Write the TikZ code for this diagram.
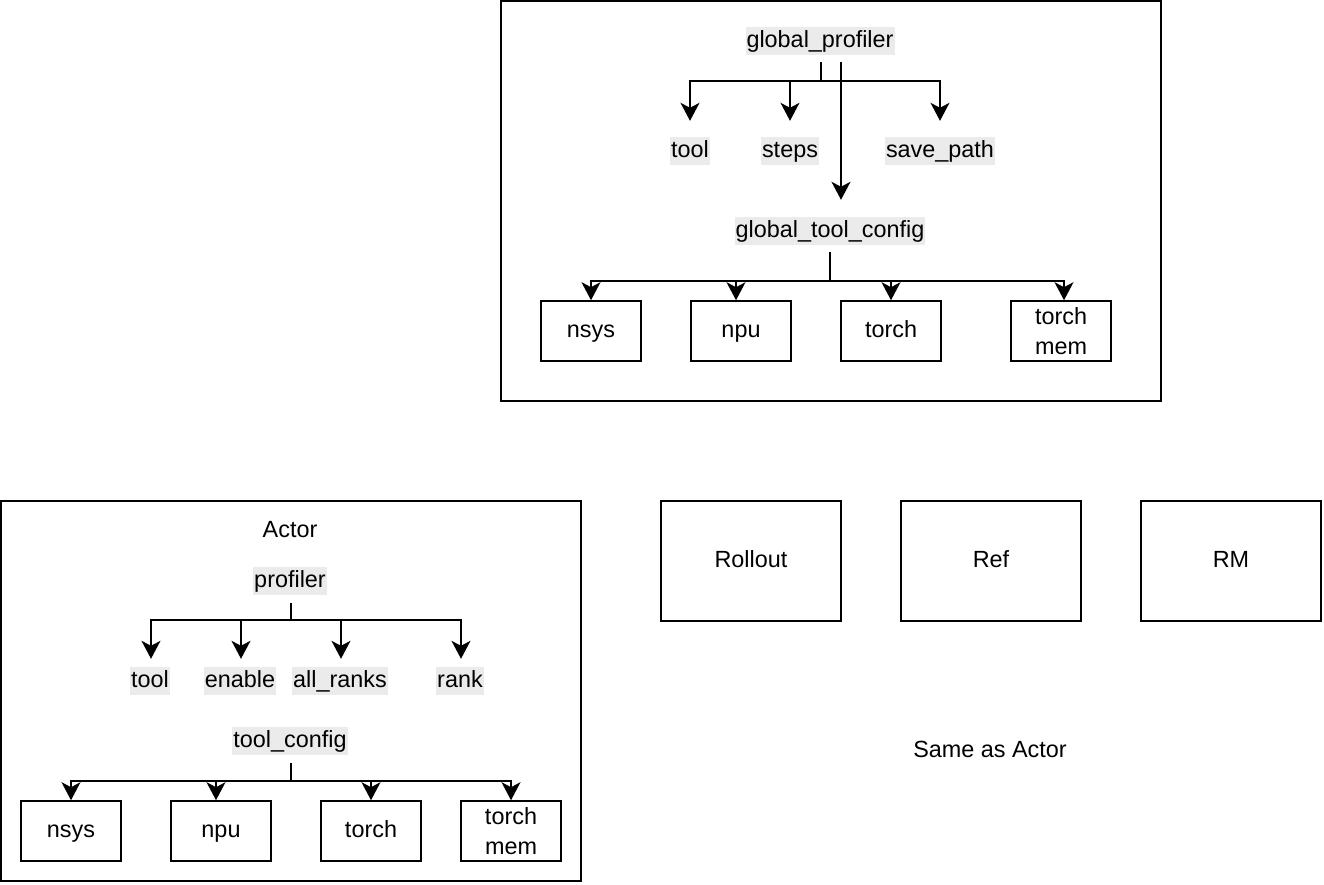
\documentclass[tikz,border=0pt]{standalone}
\usepackage{fontspec}
\setmainfont{Liberation Sans}
\usetikzlibrary{arrows.meta}
\definecolor{lblgray}{RGB}{235,235,235}
\begin{document}
\begin{tikzpicture}[x=1pt,y=-1pt,
  every node/.style={font=\fontsize{23.4}{30}\selectfont},
  lbl/.style={fill=lblgray, inner xsep=1pt, inner ysep=3pt, text height=17pt, text depth=5pt},
  plain/.style={inner sep=0pt, text height=17pt, text depth=5pt},
  mbox/.style={draw, line width=1.6pt, minimum width=100pt, minimum height=60pt, inner sep=0pt, align=center},
  box/.style={mbox, text height=17pt, text depth=5pt},
  bigbox/.style={draw, line width=1.6pt, minimum width=180pt, minimum height=120pt, inner sep=0pt, text height=17pt, text depth=5pt},
  frame/.style={draw, line width=1.6pt},
  conn/.style={line width=1.6pt, -{Stealth[length=18pt,width=19pt,inset=5pt]}}]
\useasboundingbox (0,0) rectangle (1324,884);

% ---------- top frame ----------
\draw[frame] (501,1) rectangle (1161,401);
\node[lbl] (gp) at (820,41) {global\_profiler};
\node[lbl] (gtool) at (690,151) {tool};
\node[lbl] (gsteps) at (790,151) {steps};
\node[lbl] (gsave) at (940,151) {save\_path};
\node[lbl] (gtc) at (830,231) {global\_tool\_config};
\node[box] (gnsys) at (591,331) {nsys};
\node[box] (gnpu) at (741,331) {npu};
\node[box] (gtorch) at (891,331) {torch};
\node[mbox] (gmem) at (1061,331) {torch\\mem};

\coordinate (busT) at (0,81);
\coordinate (s1) at ([xshift=1pt]gp.south);
\coordinate (s2) at ([xshift=21pt]gp.south);
\draw[conn, shorten <=7pt, shorten >=16pt] (s1) -- (s1 |- busT) -| (gtool.north);
\draw[conn, shorten <=7pt, shorten >=16pt] (s1) -- (s1 |- busT) -| (gsteps.north);
\draw[conn, shorten <=7pt, shorten >=16pt] (s1) -- (s1 |- busT) -| (gsave.north);
\draw[conn, shorten <=7pt, shorten >=17pt] (s2) -- (s2 |- gtc.north);

\coordinate (busG) at (0,281);
\draw[conn, shorten <=7pt] (gtc.south) -- (gtc.south |- busG) -| (gnsys.north);
\draw[conn, shorten <=7pt] (gtc.south) -- (gtc.south |- busG) -| ([xshift=-5pt]gnpu.north);
\draw[conn, shorten <=7pt] (gtc.south) -- (gtc.south |- busG) -| (gtorch.north);
\draw[conn, shorten <=7pt] (gtc.south) -- (gtc.south |- busG) -| ([xshift=3pt]gmem.north);

% ---------- actor frame ----------
\draw[frame] (1,501) rectangle (581,881);
\node[plain] (actor) at (290,531) {Actor};
\node[lbl] (prof) at (290,581) {profiler};
\node[lbl] (atool) at (150,681) {tool};
\node[lbl] (aen) at (240,681) {enable};
\node[lbl] (aall) at (340,681) {all\_ranks};
\node[lbl] (arank) at (460,681) {rank};
\node[lbl] (atc) at (290,741) {tool\_config};
\node[box] (ansys) at (71,831) {nsys};
\node[box] (anpu) at (221,831) {npu};
\node[box] (atorch) at (371,831) {torch};
\node[mbox] (amem) at (511,831) {torch\\mem};

\coordinate (busA) at (0,620);
\coordinate (p1) at ([xshift=1pt]prof.south);
\draw[conn, shorten <=8pt, shorten >=8pt] (p1) -- (p1 |- busA) -| ([xshift=1pt]atool.north);
\draw[conn, shorten <=8pt, shorten >=8pt] (p1) -- (p1 |- busA) -| ([xshift=1pt]aen.north);
\draw[conn, shorten <=8pt, shorten >=8pt] (p1) -- (p1 |- busA) -| ([xshift=1pt]aall.north);
\draw[conn, shorten <=8pt, shorten >=8pt] (p1) -- (p1 |- busA) -| ([xshift=1pt]arank.north);

\coordinate (busB) at (0,781);
\coordinate (p2) at ([xshift=1pt]atc.south);
\draw[conn, shorten <=8pt] (p2) -- (p2 |- busB) -| (ansys.north);
\draw[conn, shorten <=8pt] (p2) -- (p2 |- busB) -| ([xshift=-5pt]anpu.north);
\draw[conn, shorten <=8pt] (p2) -- (p2 |- busB) -| (atorch.north);
\draw[conn, shorten <=8pt] (p2) -- (p2 |- busB) -| (amem.north);

% ---------- other roles ----------
\node[bigbox] (rollout) at (751,561) {Rollout};
\node[bigbox] (ref) at (991,561) {Ref};
\node[bigbox] (rm) at (1231,561) {RM};
\node[plain] (same) at (990,751) {Same as Actor};
\end{tikzpicture}
\end{document}
